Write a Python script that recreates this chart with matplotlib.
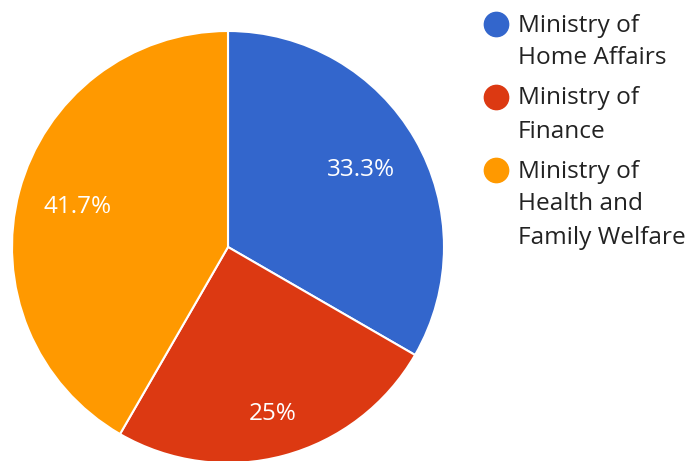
import numpy as np
import matplotlib
matplotlib.use("Agg")
import matplotlib.pyplot as plt

labels = ["Ministry of\nHome Affairs", "Ministry of\nFinance",
          "Ministry of\nHealth and\nFamily Welfare"]
values = [4, 3, 5]
pct_text = ["33.3%", "25%", "41.7%"]
colors = ["#3366cc", "#dc3912", "#ff9900"]
label_r = [0.71, 0.80, 0.72]   # radial position of the % labels

plt.rcParams["font.family"] = ["Open Sans", "DejaVu Sans"]

W, H = 688, 461
fig = plt.figure(figsize=(W / 100, H / 100), dpi=100)

# pie: centre (228, 247) px, radius 216 px
cx, cy, r = 228, 247, 216
ax = fig.add_axes([(cx - r) / W, (H - cy - r) / H, 2 * r / W, 2 * r / H])
wedges, _ = ax.pie(values, colors=colors, startangle=90, counterclock=False,
                   radius=1.0, wedgeprops=dict(edgecolor="white", linewidth=1.5))
ax.set_xlim(-1, 1)
ax.set_ylim(-1, 1)
ax.set_aspect("equal")
ax.axis("off")

for w, t, rr in zip(wedges, pct_text, label_r):
    mid = np.deg2rad((w.theta1 + w.theta2) / 2)
    ax.text(rr * np.cos(mid), rr * np.sin(mid), t, color="white",
            fontsize=17.5, ha="center", va="center")

# legend drawn by hand
y = 24
for lab, col in zip(labels, colors):
    fig.add_artist(plt.Line2D([496 / W], [1 - y / H], marker="o", markersize=17.5,
                              color=col, linestyle="none",
                              transform=fig.transFigure))
    lines = lab.split("\n")
    for i, ln in enumerate(lines):
        fig.text(518 / W, 1 - (y + 1.5 + i * 33) / H, ln, fontsize=17.6,
                 color="#222222", ha="left", va="center")
    y += len(lines) * 33 + 7

fig.savefig("out.png", dpi=100)
